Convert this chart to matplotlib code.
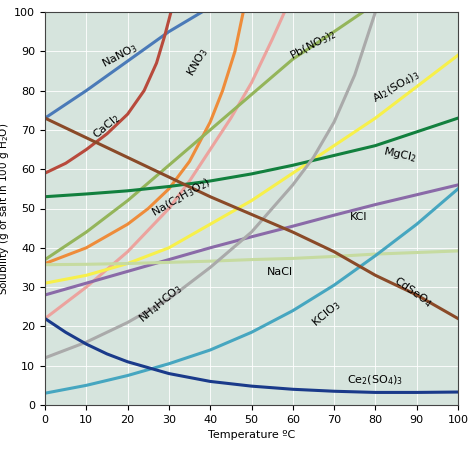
import matplotlib
matplotlib.use("Agg")
import matplotlib.pyplot as plt

temps = [0, 10, 20, 30, 40, 50, 60, 70, 80, 90, 100]

nano3_t = [0, 10, 20, 30, 38]
nano3 = [73, 80, 87.5, 95, 100]
cacl2_t = [0, 5, 10, 15, 20, 24, 27, 29, 30.5]
cacl2 = [59, 61.5, 65, 69, 74, 80, 87, 94, 100]
kno3_t = [0, 10, 20, 30, 35, 40, 45, 50, 55, 58]
kno3 = [22, 30, 39, 50, 57, 65, 73, 82, 93, 100]
naac_t = [0, 10, 20, 25, 30, 35, 40, 43, 46, 48]
naac = [36, 40, 46, 50, 55, 62, 72, 80, 90, 100]
pbno3_t = [0, 10, 20, 30, 40, 50, 60, 70, 77]
pbno3 = [37, 44, 52, 61, 70, 79, 88, 95, 100]
al2so4 = [31, 33, 36, 40, 46, 52, 59, 66, 73, 81, 89]
mgcl2 = [53, 53.7, 54.5, 55.6, 57, 58.8, 61, 63.5, 66, 69.5, 73]
kcl = [28, 31, 34, 37, 40, 42.8, 45.5, 48.3, 51, 53.5, 56]
nacl = [35.7, 35.8, 36, 36.3, 36.6, 37, 37.3, 37.8, 38.4, 38.8, 39.2]
nh4_t = [0, 10, 20, 30, 40, 50, 60, 65, 70, 75, 80]
nh4 = [12, 16, 21, 27, 35, 44, 56, 63, 72, 84, 100]
kclo3 = [3, 5, 7.5, 10.5, 14, 18.5, 24, 30.5, 38, 46, 55]
cdseo4 = [73, 68, 63, 58, 53, 48.5, 44, 39, 33, 28, 22]
ce2so4_t = [0, 5, 10, 15, 20, 30, 40, 50, 60, 70, 80, 90, 100]
ce2so4 = [22, 18.5, 15.5, 13, 11, 8, 6, 4.8, 4, 3.5, 3.2, 3.2, 3.3]

fig = plt.figure(figsize=(4.74, 4.5), dpi=100)
ax = fig.add_axes([45/474, 1-405/450, 413/474, 393/450])
ax.set_facecolor('#d6e4dd')
ax.set_xlim(0, 100); ax.set_ylim(0, 100)
ax.set_xticks(range(0, 101, 10)); ax.set_yticks(range(0, 101, 10))
ax.grid(color='white', lw=0.6)
ax.set_axisbelow(True)
ax.tick_params(labelsize=8)
for s in ax.spines.values(): s.set_color('#444')

lw = 2.2
ax.plot(nano3_t, nano3, color='#4a7ab8', lw=lw)
ax.plot(cacl2_t, cacl2, color='#b84a3c', lw=lw)
ax.plot(kno3_t, kno3, color='#eca39e', lw=lw)
ax.plot(naac_t, naac, color='#ee8c3a', lw=lw)
ax.plot(pbno3_t, pbno3, color='#94b55a', lw=lw)
ax.plot(temps, al2so4, color='#f7f04a', lw=lw)
ax.plot(temps, mgcl2, color='#12803e', lw=lw)
ax.plot(temps, kcl, color='#8a6aa8', lw=lw)
ax.plot(temps, nacl, color='#c6dba0', lw=lw)
ax.plot(nh4_t, nh4, color='#aaaaaa', lw=lw)
ax.plot(temps, kclo3, color='#46a6c0', lw=lw)
ax.plot(temps, cdseo4, color='#8a4a28', lw=lw)
ax.plot(ce2so4_t, ce2so4, color='#1a3a8a', lw=lw)

fs = 8
ax.text(18, 86, 'NaNO$_3$', fontsize=fs, rotation=28, ha='center')
ax.text(15, 68, 'CaCl$_2$', fontsize=fs, rotation=40, ha='center')
ax.text(37, 84, 'KNO$_3$', fontsize=fs, rotation=60, ha='center')
ax.text(65, 88, 'Pb(NO$_3$)$_2$', fontsize=fs, rotation=28, ha='center')
ax.text(85, 77, 'Al$_2$(SO$_4$)$_3$', fontsize=fs, rotation=30, ha='center')
ax.text(86, 62, 'MgCl$_2$', fontsize=fs, rotation=-12, ha='center')
ax.text(33, 48, 'Na(C$_2$H$_3$O$_2$)', fontsize=fs, rotation=30, ha='center')
ax.text(76, 47, 'KCl', fontsize=fs, ha='center')
ax.text(57, 33, 'NaCl', fontsize=fs, ha='center')
ax.text(28, 21, 'NH$_4$HCO$_3$', fontsize=fs, rotation=40, ha='center')
ax.text(68, 20, 'KClO$_3$', fontsize=fs, rotation=40, ha='center')
ax.text(89, 25, 'CdSeO$_4$', fontsize=fs, rotation=-35, ha='center')
ax.text(80, 5.5, 'Ce$_2$(SO$_4$)$_3$', fontsize=fs, ha='center')

ax.set_xlabel('Temperature ºC', fontsize=8)
ax.set_ylabel('Solubility (g of salt in 100 g H$_2$O)', fontsize=7.5, labelpad=2)
fig.savefig('out.png', dpi=100)
